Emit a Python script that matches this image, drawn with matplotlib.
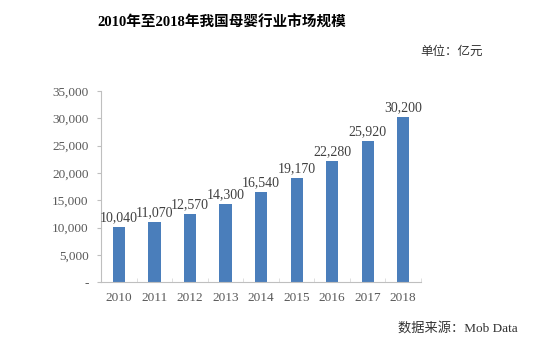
import matplotlib

matplotlib.use("Agg")
import matplotlib.pyplot as plt
from matplotlib.ticker import FuncFormatter, MultipleLocator

years = ["2010", "2011", "2012", "2013", "2014", "2015", "2016", "2017", "2018"]
market_size = [10040, 11070, 12570, 14300, 16540, 19170, 22280, 25920, 30200]

plt.rcParams["font.family"] = ["Liberation Serif", "Noto Sans CJK SC"]

fig = plt.figure(figsize=(5.59, 3.44), dpi=100)
ax = fig.add_axes([0.181, 0.180, 0.572, 0.555])

x = list(range(len(years)))
ax.bar(x, market_size, width=0.34, color="#4a7ebb")
for xi, v in zip(x, market_size):
    ax.text(xi, v + 500, f"{v:,}", ha="center", va="bottom", fontsize=10, color="#404040")

ax.set_xlim(-0.5, len(years) - 0.5)
ax.set_ylim(0, 35000)
ax.yaxis.set_major_locator(MultipleLocator(5000))
ax.yaxis.set_major_formatter(FuncFormatter(lambda v, _: "-" if v == 0 else f"{int(v):,}"))
ax.set_xticks(x)
ax.set_xticklabels(years)
ax.set_xticks([i + 0.5 for i in range(-1, len(years))], minor=True)

for side in ("top", "right"):
    ax.spines[side].set_visible(False)
for side in ("left", "bottom"):
    ax.spines[side].set_color("#bfbfbf")
    ax.spines[side].set_linewidth(0.8)

ax.tick_params(axis="y", length=3, color="#bfbfbf", labelsize=9.5, labelcolor="#595959", pad=6)
ax.tick_params(axis="x", which="major", length=0, labelsize=9.5, labelcolor="#595959", pad=7)
ax.tick_params(axis="x", which="minor", length=3, color="#d9d9d9", direction="in")

fig.text(0.396, 0.935, "2010年至2018年我国母婴行业市场规模", ha="center", va="center",
         fontsize=10.5, fontweight="bold", color="black")
fig.text(0.864, 0.848, "单位：亿元", ha="right", va="center", fontsize=9, color="#333333")
fig.text(0.927, 0.047, "数据来源：Mob Data", ha="right", va="center", fontsize=9.5, color="#333333")

fig.savefig("out.png", dpi=100)
